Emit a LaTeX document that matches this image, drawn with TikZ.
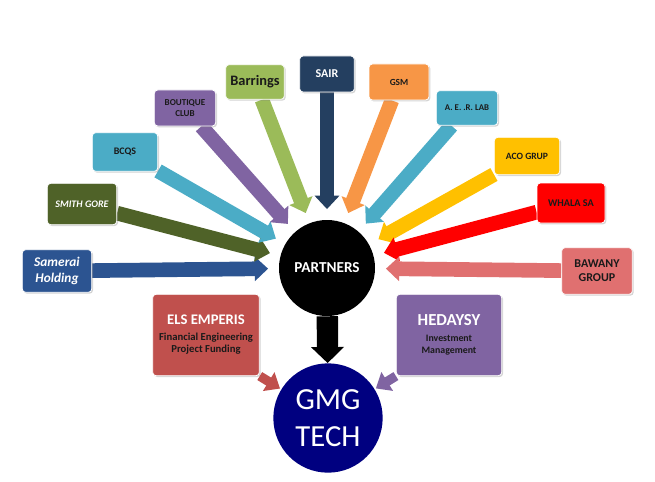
\documentclass[tikz,border=0pt]{standalone}
\usepackage{fontspec}
\setmainfont{Carlito}
\usetikzlibrary{arrows.meta, positioning, shadows, backgrounds}

\definecolor{samblue}{HTML}{2C5491}
\definecolor{smithgreen}{HTML}{4F6228}
\definecolor{tealblue}{HTML}{4BACC6}
\definecolor{clubpurple}{HTML}{8064A2}
\definecolor{leafgreen}{HTML}{9BBB59}
\definecolor{sairnavy}{HTML}{243F60}
\definecolor{gsmorange}{HTML}{F79646}
\definecolor{acoyellow}{HTML}{FFC000}
\definecolor{whalared}{HTML}{FF0000}
\definecolor{bawanypink}{HTML}{E07070}
\definecolor{elsred}{HTML}{C0504D}
\definecolor{gmgnavy}{HTML}{000080}
\definecolor{darktext}{HTML}{1A1A1A}

\begin{document}
\begin{tikzpicture}[x=0.75pt, y=-0.75pt,
    partnerbox/.style={draw=white, line width=0.6pt, rounded corners=2.5pt,
        inner sep=1pt, align=center, text=darktext,
        drop shadow={opacity=0.35, shadow xshift=1pt, shadow yshift=-1pt},
        font=\bfseries\fontsize{7}{8}\selectfont},
    feed/.style={line width=11pt, -{Triangle[length=10pt, width=18pt]}, shorten >=8pt},
    side/.style={line width=7pt, -{Triangle[length=10pt, width=16pt]}, shorten >=1pt}]
\useasboundingbox (0,0) rectangle (655,481);

% centre circles
\node[circle, fill=black, minimum size=72pt, inner sep=0pt, text=white,
      font=\bfseries\fontsize{11.4}{13}\selectfont] (partners) at (327,268) {PARTNERS};
\node[circle, fill=gmgnavy, minimum size=82pt, inner sep=0pt, text=white, align=center,
      font=\fontsize{23}{28}\selectfont] (gmg) at (328,418) {GMG\\TECH};

% partner boxes
\node[partnerbox, fill=samblue, minimum width=52pt, minimum height=32pt, text=white,
      font=\bfseries\itshape\fontsize{10}{11.5}\selectfont] (samerai) at (57,271) {Samerai\\Holding};
\node[partnerbox, fill=smithgreen, minimum width=52pt, minimum height=31pt, text=white,
      font=\bfseries\itshape\fontsize{7.5}{8.5}\selectfont] (smith) at (82,204) {SMITH GORE};
\node[partnerbox, fill=tealblue, minimum width=49pt, minimum height=29pt,
      font=\bfseries\fontsize{7.5}{8.5}\selectfont] (bcqs) at (125,152) {BCQS};
\node[partnerbox, fill=clubpurple, minimum width=46pt, minimum height=27pt,
      font=\bfseries\fontsize{6.8}{7.6}\selectfont] (boutique) at (185,108) {BOUTIQUE\\CLUB};
\node[partnerbox, fill=leafgreen, minimum width=44pt, minimum height=26pt,
      font=\bfseries\fontsize{10.8}{12}\selectfont] (barrings) at (255,82) {Barrings};
\node[partnerbox, fill=sairnavy, minimum width=41pt, minimum height=27pt, text=white,
      font=\bfseries\fontsize{9}{10}\selectfont] (sair) at (327,74) {SAIR};
\node[partnerbox, fill=gsmorange, minimum width=45pt, minimum height=27pt] (gsm) at (399,82) {GSM};
\node[partnerbox, fill=tealblue, minimum width=46pt, minimum height=26pt,
      font=\bfseries\fontsize{6.6}{7.6}\selectfont] (aer) at (467,108) {A. E. .R. LAB};
\node[partnerbox, fill=acoyellow, minimum width=49pt, minimum height=28pt,
      font=\bfseries\fontsize{7.2}{8.2}\selectfont] (aco) at (527,156) {ACO GRUP};
\node[partnerbox, fill=whalared, minimum width=51pt, minimum height=30pt,
      font=\bfseries\fontsize{7.7}{8.7}\selectfont] (whala) at (571,203) {WHALA SA};
\node[partnerbox, fill=bawanypink, minimum width=53pt, minimum height=35pt,
      font=\bfseries\fontsize{9}{10.5}\selectfont] (bawany) at (597,271) {BAWANY\\GROUP};

% service boxes
\node[partnerbox, fill=elsred, minimum width=80pt, minimum height=61pt,
      font=\bfseries\fontsize{8}{9.5}\selectfont] (els) at (206,335)
      {{\color{white}\fontsize{11}{13}\selectfont ELS EMPERIS}\\[2pt]Financial Engineering\\Project Funding};
\node[partnerbox, fill=clubpurple, minimum width=79pt, minimum height=61pt,
      font=\bfseries\fontsize{7.4}{9}\selectfont] (hedaysy) at (449,335)
      {{\color{white}\fontsize{12.6}{14}\selectfont HEDAYSY}\\[3pt]Investment\\Management};

% connectors
\begin{scope}[on background layer]
\draw[feed, samblue] (samerai) -- (partners);
\draw[feed, smithgreen] (smith) -- (partners);
\draw[feed, tealblue] (bcqs) -- (partners);
\draw[feed, clubpurple] (boutique) -- (partners);
\draw[feed, leafgreen] (barrings) -- (partners);
\draw[feed, sairnavy] (sair) -- (partners);
\draw[feed, gsmorange] (gsm) -- (partners);
\draw[feed, tealblue] (aer) -- (partners);
\draw[feed, acoyellow] (aco) -- (partners);
\draw[feed, whalared] (whala) -- (partners);
\draw[feed, bawanypink] (bawany) -- (partners);
\draw[black, line width=16pt, -{Triangle[length=12pt, width=24pt]}] (partners) -- (gmg);
\draw[side, elsred] (els.south east) -- (gmg);
\draw[side, clubpurple] (hedaysy.south west) -- (gmg);
\end{scope}
\end{tikzpicture}
\end{document}
